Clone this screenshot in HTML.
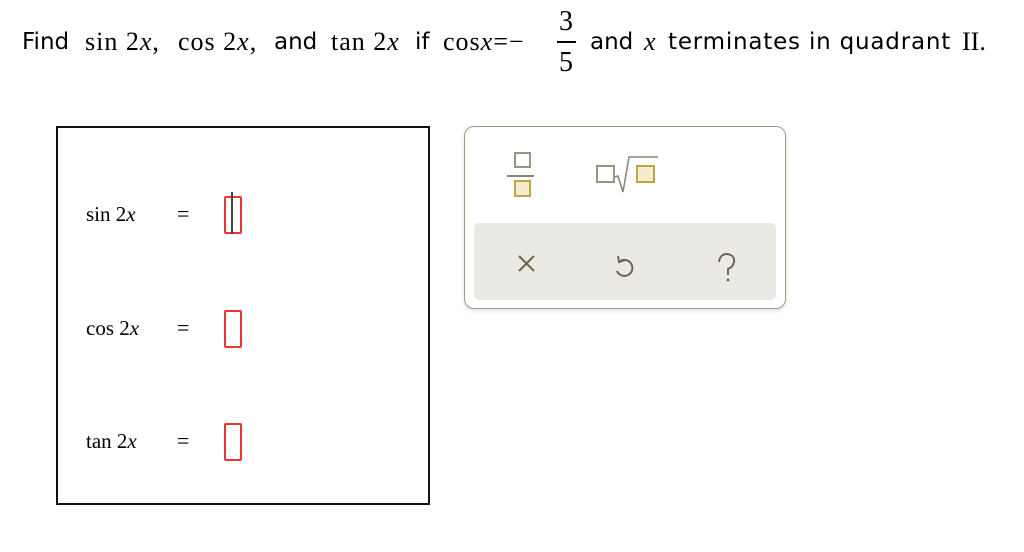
<!DOCTYPE html>
<html><head><style>
body{margin:0;width:1024px;height:552px;background:#fff;position:relative;overflow:hidden;font-family:"Liberation Sans",sans-serif;}
.a{position:absolute;white-space:nowrap;line-height:1;}
.s{font-family:"DejaVu Sans",sans-serif;font-size:23px;top:31px;}
.m{font-family:"Liberation Serif",serif;font-size:26px;top:29px;}
.rb{position:absolute;width:14px;height:34px;border:2px solid #e33;border-radius:2px;}
.lbl{position:absolute;font-family:"Liberation Serif",serif;font-size:21px;}
.eq{position:absolute;font-family:"Liberation Serif",serif;font-size:22px;}
</style></head><body>
<div class="a s" style="left:22px;">Find</div>
<div class="a m" style="left:85px;letter-spacing:1px;">sin 2<i>x</i>,</div>
<div class="a m" style="left:178px;letter-spacing:1px;">cos 2<i>x</i>,</div>
<div class="a s" style="left:274px;">and</div>
<div class="a m" style="left:331px;letter-spacing:1px;">tan 2<i>x</i></div>
<div class="a s" style="left:415px;">if</div>
<div class="a m" style="left:443px;letter-spacing:1px;">cos<i>x</i>=−</div>
<div class="a m" style="left:559px;top:8px;font-size:28px;">3</div>
<div class="a" style="left:557px;top:41px;width:19px;height:1.5px;background:#000;"></div>
<div class="a m" style="left:559px;top:49px;font-size:28px;">5</div>
<div class="a s" style="left:590px;">and</div>
<div class="a m" style="left:644px;"><i>x</i></div>
<div class="a s" style="left:668px;letter-spacing:0.8px;">terminates in quadrant</div>
<div class="a m" style="left:962px;">II.</div>

<div class="a" style="left:56px;top:126px;width:370px;height:375px;border:2px solid #111;"></div>
<div class="lbl" style="left:86px;top:202px;">sin 2<i>x</i></div>
<div class="eq" style="left:177px;top:201px;">=</div>
<div class="rb" style="left:224px;top:196px;"></div>
<div class="a" style="left:231px;top:192px;width:2px;height:42px;background:#444;"></div>
<div class="lbl" style="left:86px;top:316px;">cos 2<i>x</i></div>
<div class="eq" style="left:177px;top:315px;">=</div>
<div class="rb" style="left:224px;top:310px;"></div>
<div class="lbl" style="left:86px;top:429px;">tan 2<i>x</i></div>
<div class="eq" style="left:177px;top:428px;">=</div>
<div class="rb" style="left:224px;top:423px;"></div>

<div class="a" style="left:464px;top:126px;width:320px;height:181px;border:1.5px solid #a09a84;border-radius:10px;box-shadow:0 2px 4px rgba(0,0,0,0.12);background:#fff;"></div>
<div class="a" style="left:474px;top:223px;width:302px;height:77px;background:#ebe9e4;border-radius:5px;"></div>
<svg class="a" style="left:464px;top:126px;" width="322" height="183">
<rect x="51" y="27" width="15" height="14" fill="none" stroke="#9b9483" stroke-width="2"/>
<line x1="43" y1="50" x2="70" y2="50" stroke="#8a8474" stroke-width="2"/>
<rect x="51" y="55" width="15" height="15" fill="#f5eccd" stroke="#bfa545" stroke-width="2"/>
<rect x="133" y="40" width="17" height="16" fill="none" stroke="#9b9483" stroke-width="2"/>
<polyline points="151,51 154,50 159,66 165,31 194,31" fill="none" stroke="#8a8474" stroke-width="1.5"/>
<rect x="173" y="40" width="17" height="16" fill="#f5eccd" stroke="#bfa545" stroke-width="2"/>
<line x1="55" y1="130" x2="70" y2="145" stroke="#6e6650" stroke-width="2"/>
<line x1="70" y1="130" x2="55" y2="145" stroke="#6e6650" stroke-width="2"/>
<path d="M155 136 A8 8 0 1 1 153 145" fill="none" stroke="#6e6650" stroke-width="2"/>
<polyline points="154,130 155,136 161,134" fill="none" stroke="#6e6650" stroke-width="2"/>
<path d="M255 136 Q256 128 263 128 Q271 129 270 136 Q269 141 264 143 L264 149" fill="none" stroke="#6e6650" stroke-width="2"/>
<circle cx="264" cy="154" r="1.4" fill="#6e6650"/>
</svg>
</body></html>
